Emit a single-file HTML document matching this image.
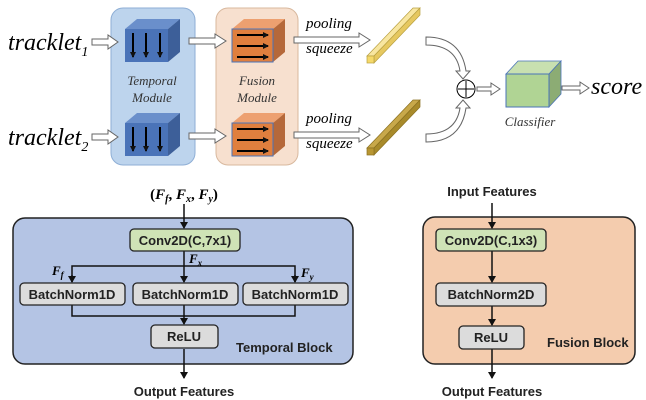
<!DOCTYPE html>
<html><head><style>
body{margin:0;background:#fff;}
svg{display:block;}
.ser{font-family:"Liberation Serif","DejaVu Serif",serif;font-style:italic;}
.b{font-family:"Liberation Sans",sans-serif;font-weight:bold;font-size:13px;fill:#222;}
</style></head><body>
<svg width="646" height="400" viewBox="0 0 646 400" xmlns="http://www.w3.org/2000/svg">
<defs>
<marker id="ah" markerWidth="8" markerHeight="8" refX="6" refY="4" orient="auto" markerUnits="userSpaceOnUse"><path d="M0,0 L7,4 L0,8 Z" fill="#111"/></marker>
<marker id="ah2" markerWidth="6" markerHeight="6" refX="5" refY="3" orient="auto" markerUnits="userSpaceOnUse"><path d="M0,0 L6,3 L0,6 Z" fill="#111"/></marker>
</defs>
<rect x="111" y="8" width="84" height="157" rx="12" fill="#bdd4ed" stroke="#8eaed5"/>
<rect x="216" y="8" width="82" height="157" rx="12" fill="#f7e0cf" stroke="#d8b89e"/>
<text x="8" y="50" class="ser" font-family="Liberation Serif,serif" font-size="24">tracklet<tspan font-size="14" dy="6">1</tspan></text>
<text x="8" y="145" class="ser" font-family="Liberation Serif,serif" font-size="24">tracklet<tspan font-size="14" dy="6">2</tspan></text>
<g fill="#fff" stroke="#666" stroke-width="1">
<path d="M92,39 h16 v-4 l10,7 l-10,7 v-4 h-16z"/>
<path d="M92,134 h16 v-4 l10,7 l-10,7 v-4 h-16z"/>
<path d="M189,38 h26 v-4 l11,7 l-11,7 v-4 h-26z"/>
<path d="M189,133 h26 v-4 l11,7 l-11,7 v-4 h-26z"/>
<path d="M294,37 h65 v-4 l11,7 l-11,7 v-4 h-65z"/>
<path d="M294,132 h65 v-4 l11,7 l-11,7 v-4 h-65z"/>
<path d="M477,87 h14 v-4 l9,6 l-9,6 v-4 h-14z"/>
<path d="M562,86 h18 v-4 l9,6 l-9,6 v-4 h-18z"/>
<path d="M426,37 q35,0 40,34 h4 l-7,8 l-7,-8 h4 q-4,-26 -34,-26z"/>
<path d="M426,142 q35,0 40,-34 h4 l-7,-8 l-7,8 h4 q-4,26 -34,26z"/>
</g>
<g>
<path d="M125,29 l12,-10 h43 l-12,10z" fill="#6a8fcb"/>
<path d="M168,29 l12,-10 v33 l-12,10z" fill="#3d5f99"/>
<rect x="125" y="29" width="43" height="33" fill="#4a73b8"/>
<path d="M125,123 l12,-10 h43 l-12,10z" fill="#6a8fcb"/>
<path d="M168,123 l12,-10 v33 l-12,10z" fill="#3d5f99"/>
<rect x="125" y="123" width="43" height="33" fill="#4a73b8"/>
<g stroke="#000" stroke-width="2" marker-end="url(#ah2)">
<line x1="133" y1="33" x2="133" y2="57"/><line x1="146" y1="33" x2="146" y2="57"/><line x1="160" y1="33" x2="160" y2="57"/>
<line x1="133" y1="127" x2="133" y2="151"/><line x1="146" y1="127" x2="146" y2="151"/><line x1="160" y1="127" x2="160" y2="151"/>
</g>
</g>
<g>
<path d="M232,29 l12,-10 h41 l-12,10z" fill="#eda070"/>
<path d="M273,29 l12,-10 v33 l-12,10z" fill="#b5683a"/>
<rect x="232" y="29" width="41" height="33" fill="#e07f3e" stroke="#4a73b8"/>
<path d="M232,123 l12,-10 h41 l-12,10z" fill="#eda070"/>
<path d="M273,123 l12,-10 v33 l-12,10z" fill="#b5683a"/>
<rect x="232" y="123" width="41" height="33" fill="#e07f3e" stroke="#4a73b8"/>
<g stroke="#000" stroke-width="2" marker-end="url(#ah2)">
<line x1="237" y1="35" x2="268" y2="35"/><line x1="237" y1="46" x2="268" y2="46"/><line x1="237" y1="57" x2="268" y2="57"/>
<line x1="237" y1="129" x2="268" y2="129"/><line x1="237" y1="140" x2="268" y2="140"/><line x1="237" y1="151" x2="268" y2="151"/>
</g>
</g>
<text x="152" y="85" class="ser" font-size="13" fill="#333" text-anchor="middle">Temporal</text>
<text x="152" y="102" class="ser" font-size="13" fill="#333" text-anchor="middle">Module</text>
<text x="257" y="85" class="ser" font-size="13" fill="#333" text-anchor="middle">Fusion</text>
<text x="257" y="102" class="ser" font-size="13" fill="#333" text-anchor="middle">Module</text>
<text x="306" y="28" class="ser" font-size="15">pooling</text>
<text x="306" y="53" class="ser" font-size="15">squeeze</text>
<text x="306" y="123" class="ser" font-size="15">pooling</text>
<text x="306" y="148" class="ser" font-size="15">squeeze</text>
<path d="M367,56 l46,-48 h7 l-46,48z" fill="#f8e6a0" stroke="#b8a040" stroke-width="0.7"/>
<path d="M374,56 l46,-48 v7 l-46,48z" fill="#e6c860" stroke="#b8a040" stroke-width="0.7"/>
<rect x="367" y="56" width="7" height="7" fill="#f5d96a" stroke="#b8a040" stroke-width="0.7"/>
<path d="M367,148 l46,-48 h7 l-46,48z" fill="#c8a84a" stroke="#8a7020" stroke-width="0.7"/>
<path d="M374,148 l46,-48 v7 l-46,48z" fill="#a88a2a" stroke="#8a7020" stroke-width="0.7"/>
<rect x="367" y="148" width="7" height="7" fill="#b89632" stroke="#8a7020" stroke-width="0.7"/>
<circle cx="466" cy="89" r="9" fill="#fff" stroke="#000"/>
<line x1="458" y1="89" x2="474" y2="89" stroke="#000"/><line x1="466" y1="81" x2="466" y2="97" stroke="#000"/>
<path d="M506,74 l12,-13 h43 l-12,13z" fill="#c8e0b0" stroke="#4a73b8" stroke-width="0.8"/>
<path d="M549,74 l12,-13 v33 l-12,13z" fill="#8cac74" stroke="#4a73b8" stroke-width="0.8"/>
<rect x="506" y="74" width="43" height="33" fill="#b0d494" stroke="#4a73b8"/>
<text x="530" y="126" class="ser" font-size="13" fill="#333" text-anchor="middle">Classifier</text>
<text x="591" y="94" class="ser" font-size="24">score</text>

<text x="184" y="199" font-family="Liberation Serif,serif" font-weight="bold" font-size="15" text-anchor="middle">(<tspan font-style="italic">F<tspan font-size="10" dy="3">f</tspan></tspan><tspan dy="-3">, </tspan><tspan font-style="italic">F<tspan font-size="10" dy="3">x</tspan></tspan><tspan dy="-3">, </tspan><tspan font-style="italic">F<tspan font-size="10" dy="3">y</tspan></tspan><tspan dy="-3">)</tspan></text>
<rect x="13" y="218" width="340" height="146" rx="12" fill="#b4c4e4" stroke="#222" stroke-width="1.5"/>
<g stroke="#111" stroke-width="1.5" fill="none">
<line x1="184" y1="204" x2="184" y2="228" marker-end="url(#ah)"/>
<line x1="184" y1="251" x2="184" y2="282" marker-end="url(#ah)"/>
<path d="M72,282 V266 H295 V282"/>
<line x1="72" y1="275" x2="72" y2="282" marker-end="url(#ah)"/>
<line x1="295" y1="275" x2="295" y2="282" marker-end="url(#ah)"/>
<path d="M72,305 V316 H295 V305"/>
<line x1="184" y1="305" x2="184" y2="324" marker-end="url(#ah)"/>
<line x1="184" y1="349" x2="184" y2="378" marker-end="url(#ah)"/>
</g>
<rect x="130" y="229" width="110" height="22" rx="4" fill="#cfe3b6" stroke="#222" stroke-width="1.3"/>
<text x="185" y="245" class="b" text-anchor="middle">Conv2D(C,7x1)</text>
<text x="52" y="275" font-family="Liberation Serif,serif" font-weight="bold" font-style="italic" font-size="13">F<tspan font-size="9" dy="3">f</tspan></text>
<text x="189" y="263" font-family="Liberation Serif,serif" font-weight="bold" font-style="italic" font-size="13">F<tspan font-size="9" dy="3">x</tspan></text>
<text x="301" y="277" font-family="Liberation Serif,serif" font-weight="bold" font-style="italic" font-size="13">F<tspan font-size="9" dy="3">y</tspan></text>
<rect x="20" y="283" width="105" height="22" rx="4" fill="#dcdcdc" stroke="#222" stroke-width="1.3"/>
<rect x="133" y="283" width="105" height="22" rx="4" fill="#dcdcdc" stroke="#222" stroke-width="1.3"/>
<rect x="243" y="283" width="105" height="22" rx="4" fill="#dcdcdc" stroke="#222" stroke-width="1.3"/>
<text x="72" y="299" class="b" text-anchor="middle">BatchNorm1D</text>
<text x="185" y="299" class="b" text-anchor="middle">BatchNorm1D</text>
<text x="295" y="299" class="b" text-anchor="middle">BatchNorm1D</text>
<rect x="151" y="325" width="67" height="23" rx="4" fill="#dcdcdc" stroke="#222" stroke-width="1.3"/>
<text x="184" y="341" class="b" text-anchor="middle">ReLU</text>
<text x="236" y="352" class="b">Temporal Block</text>
<text x="184" y="396" class="b" text-anchor="middle">Output Features</text>

<text x="492" y="196" class="b" text-anchor="middle">Input Features</text>
<rect x="423" y="217" width="212" height="147" rx="12" fill="#f4ccae" stroke="#222" stroke-width="1.5"/>
<g stroke="#111" stroke-width="1.5">
<line x1="492" y1="203" x2="492" y2="228" marker-end="url(#ah)"/>
<line x1="492" y1="251" x2="492" y2="282" marker-end="url(#ah)"/>
<line x1="492" y1="306" x2="492" y2="325" marker-end="url(#ah)"/>
<line x1="492" y1="349" x2="492" y2="378" marker-end="url(#ah)"/>
</g>
<rect x="436" y="229" width="110" height="22" rx="4" fill="#cfe3b6" stroke="#222" stroke-width="1.3"/>
<text x="491" y="245" class="b" text-anchor="middle">Conv2D(C,1x3)</text>
<rect x="436" y="283" width="110" height="23" rx="4" fill="#dcdcdc" stroke="#222" stroke-width="1.3"/>
<text x="491" y="299" class="b" text-anchor="middle">BatchNorm2D</text>
<rect x="459" y="326" width="65" height="23" rx="4" fill="#dcdcdc" stroke="#222" stroke-width="1.3"/>
<text x="491" y="342" class="b" text-anchor="middle">ReLU</text>
<text x="547" y="347" class="b">Fusion Block</text>
<text x="492" y="396" class="b" text-anchor="middle">Output Features</text>
</svg>
</body></html>
